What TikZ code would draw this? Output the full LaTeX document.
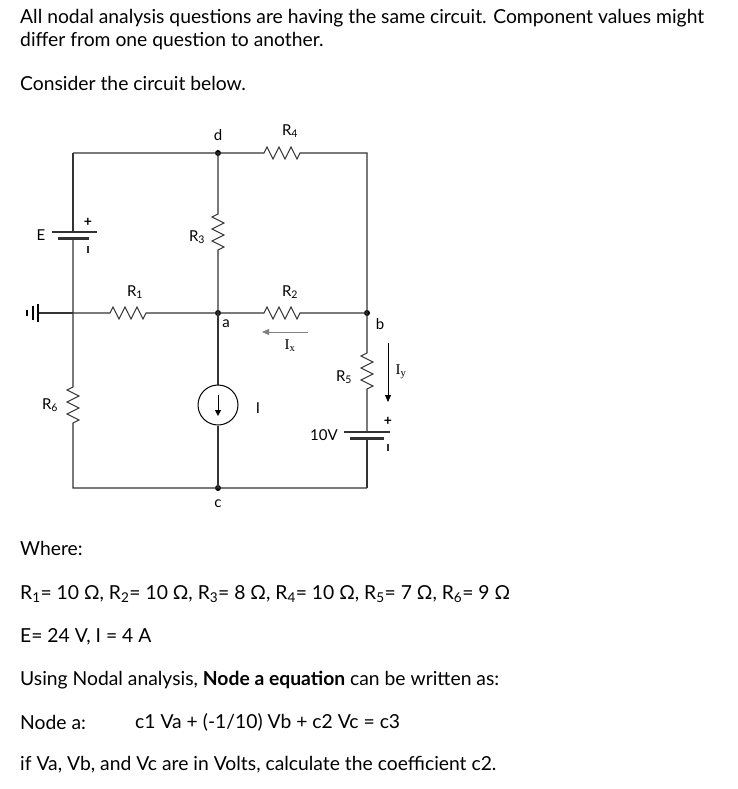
\documentclass[tikz,border=0pt]{standalone}
\usepackage{fontspec}
\setmainfont{Lato}
\newfontfamily\serifx{Liberation Serif}
\usetikzlibrary{arrows.meta}
\begin{document}
\begin{tikzpicture}[x=1pt,y=-1pt,
  txt/.style={anchor=west,inner sep=0pt,font=\fontsize{19.3}{22}\selectfont},
  lbl/.style={inner sep=0pt,font=\fontsize{15}{17}\selectfont},
  wire/.style={line width=1.1pt,black!80},
  dotn/.style={circle,fill=black,inner sep=0pt,minimum size=6pt}]
\useasboundingbox (0,0) rectangle (737,789);
\fill[white] (0,0) rectangle (737,789);
% text
\node[txt] (t1) at (20,18) {All nodal analysis questions are having the same circuit. Component values might};
\node[txt] (t2) at (20,41) {differ from one question to another.};
\node[txt] (t3) at (20,83) {Consider the circuit below.};
\node[txt] (t4) at (20,548) {Where:};
\node[txt] (t5) at (20,594) {R\textsubscript{1}= 10 Ω, R\textsubscript{2}= 10 Ω, R\textsubscript{3}= 8 Ω, R\textsubscript{4}= 10 Ω, R\textsubscript{5}= 7 Ω, R\textsubscript{6}= 9 Ω};
\node[txt] (t6) at (20,637) {E= 24 V, I = 4 A};
\node[txt] (t7) at (20,680) {Using Nodal analysis, \textbf{Node a equation} can be written as:};
\node[txt] (t8) at (20,722) {Node a:};
\node[txt] (t9) at (135,722) {c1 Va + (-1/10) Vb + c2 Vc = c3};
\node[txt] (t10) at (20,765) {if Va, Vb, and Vc are in Volts, calculate the coefficient c2.};
% nodes
\coordinate (tl) at (73,153);
\node[dotn] (d) at (218,153) {};
\coordinate (tr) at (367,153);
\coordinate (ml) at (73,313);
\node[dotn] (a) at (218,313) {};
\node[dotn] (b) at (367,313) {};
\coordinate (bl) at (73,488);
\node[dotn] (c) at (218,488) {};
\coordinate (br) at (367,488);
\def\zzh{-- ++(3,-6) -- ++(6,12) -- ++(6,-12) -- ++(6,12) -- ++(6,-12) -- ++(6,12) -- ++(3,-6)}
\def\zzv{-- ++(-6,3) -- ++(12,6) -- ++(-12,6) -- ++(12,6) -- ++(-12,6) -- ++(12,6) -- ++(-6,3)}
% top wire with R4
\draw[wire] (tl) -- (d.center) -- (264,153) \zzh -- (tr) -- (b.center);
% R3
\draw[wire] (d.center) -- (218,214) \zzv -- (a.center);
% R1 and R2
\draw[wire] (ml) -- (110,313) \zzh -- (a.center) -- (264,313) \zzh -- (b.center);
% left vertical with E battery and R6
\draw[wire] (tl) -- (73,232);
\draw[wire] (52,232) -- (97,232);
\draw[line width=3pt,black!80] (58,238) -- (89,238);
\draw[wire] (73,238) -- (ml) -- (73,387) \zzv -- (bl) -- (c.center) -- (br);
\node[lbl,font=\bfseries\fontsize{14}{15}\selectfont] (ep) at (88,222) {+};
\draw[wire] (88,246) -- (88,253);
\node[lbl] (E) at (41,235) {E};
% ground
\draw[wire] (ml) -- (38,313);
\draw[line width=1.6pt] (38,304) -- (38,322);
\draw[line width=1.6pt] (33,306) -- (33,320);
\draw[line width=1.6pt] (27,310) -- (27,316);
% current source
\draw[wire] (a.center) -- (218,385);
\node[circle,draw,line width=1pt,minimum size=40pt,inner sep=0pt] (cs) at (218,405) {};
\draw[wire] (cs.south) -- (c.center);
\draw[line width=1pt,-{Triangle[length=6pt,width=6pt]}] (218,395) -- (218,416);
\node[lbl] (Il) at (258,408) {I};
% right: R5 and 10V
\draw[wire] (b.center) -- (367,353) \zzv -- (367,402) -- (367,432);
\draw[wire] (344,432) -- (390,432);
\draw[line width=3pt,black!80] (350,438) -- (384,438);
\draw[wire] (367,438) -- (br);
\node[lbl,font=\bfseries\fontsize{14}{15}\selectfont] (vp) at (388,421) {+};
\draw[wire] (388,444) -- (388,451);
\node[lbl] (tenv) at (324,435) {10V};
% labels
\node[lbl] (dl) at (218,135) {d};
\node[lbl] (cl) at (218,504) {c};
\node[lbl] (al) at (226,324) {a};
\node[lbl] (bl2) at (380,324) {b};
\node[lbl] (r4) at (290,131) {R\textsubscript{4}};
\node[lbl] (r1) at (135,292) {R\textsubscript{1}};
\node[lbl] (r2) at (290,292) {R\textsubscript{2}};
\node[lbl] (r3) at (197,237) {R\textsubscript{3}};
\node[lbl] (r5) at (344,377) {R\textsubscript{5}};
\node[lbl] (r6) at (50,405) {R\textsubscript{6}};
% Ix, Iy
\coordinate (ix1) at (308,332); \coordinate (ix2) at (262,332);
\draw[gray,line width=0.8pt,-{Triangle[length=7pt,width=6pt]}] (ix1) -- (ix2);
\node[lbl,font=\serifx\fontsize{15}{17}\selectfont] (ixl) at (290,346) {I\textsubscript{x}};
\coordinate (iy1) at (388,343); \coordinate (iy2) at (388,402);
\draw[line width=0.8pt,-{Triangle[length=7pt,width=6pt]}] (iy1) -- (iy2);
\node[lbl,font=\serifx\fontsize{15}{17}\selectfont] (iyl) at (401,372) {I\textsubscript{y}};
\end{tikzpicture}
\end{document}
